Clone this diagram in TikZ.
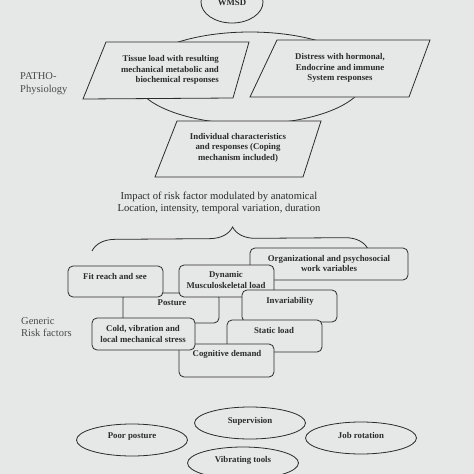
\documentclass[tikz,border=0pt]{standalone}
\usepackage{fontspec}
\setmainfont{Liberation Serif}
\usetikzlibrary{decorations.pathreplacing,shapes.geometric}
\definecolor{bgc}{HTML}{E6E7E7}
\definecolor{ink}{HTML}{2B2B2B}
\definecolor{soft}{HTML}{4A4A4A}
\begin{document}
\begin{tikzpicture}[x=1pt,y=-1pt,
  shapeline/.style={draw=ink, line width=0.8pt, fill=bgc},
  boxtext/.style={font=\bfseries\fontsize{8.8}{10.6}\selectfont, text=ink, align=center, inner sep=0pt},
  sidelabel/.style={font=\fontsize{10.5}{12.5}\selectfont, text=soft, align=left, inner sep=0pt, anchor=west},
  rbox/.style={draw=ink, line width=0.8pt, fill=bgc, rounded corners=5pt, rectangle, inner sep=0pt},
  oval/.style={draw=ink, line width=0.8pt, fill=bgc, ellipse, inner sep=0pt, minimum width=111pt, minimum height=32pt}
]
\fill[bgc] (0,0) rectangle (474,474);
\useasboundingbox (0,0) rectangle (474,474);

% WMSD
\node[oval, minimum width=62pt, minimum height=42pt] (wmsd) at (232,2) {};
\node[boxtext] (wmsdt) at (232,2.5) {WMSD};

% big ellipse behind
\node[oval, minimum width=230pt, minimum height=92pt] (patho) at (250,78) {};

% parallelograms
\draw[shapeline] (106,42) -- (249,42) -- (233,98) -- (83,99) -- cycle;
\node[boxtext, align=right, anchor=east] (tissue) at (219,70) {Tissue load with resulting\\mechanical metabolic and\\biochemical responses};
\draw[shapeline] (277,40) -- (430,40) -- (409,97) -- (250,97) -- cycle;
\node[boxtext] (distress) at (340,68) {Distress with hormonal,\\Endocrine and immune\\System responses};
\draw[shapeline] (177,121) -- (321,121) -- (303,177) -- (155,177) -- cycle;
\node[boxtext] (indiv) at (238,147.5) {Individual characteristics\\and responses (Coping\\mechanism included)};

\node[sidelabel] (patholab) at (20,83.5) {PATHO-\\Physiology};

% impact text
\node[font=\fontsize{10.6}{12.2}\selectfont, text=ink, align=center, inner sep=0pt] (impact) at (219,203) {Impact of risk factor modulated by anatomical\\Location, intensity, temporal variation, duration};

% brace
\coordinate (bl) at (92,251);
\coordinate (br) at (368,249);
\draw[ink, line width=0.8pt, decorate, decoration={brace, amplitude=23pt, aspect=0.51}] (bl) -- (br);

% risk factor boxes
\node[rbox, minimum width=96pt, minimum height=30pt] (posture) at (171,308) {};
\node[boxtext] (posturet) at (172,303) {Posture};
\node[rbox, minimum width=158pt, minimum height=32pt] (org) at (329,264) {};
\node[boxtext] (orgt) at (329,263.5) {Organizational and psychosocial\\work variables};
\node[rbox, minimum width=95pt, minimum height=31pt] (fit) at (115.5,281.5) {};
\node[boxtext] (fitt) at (115,276) {Fit reach and see};
\node[rbox, minimum width=95pt, minimum height=32pt] (dyn) at (226.5,281) {};
\node[boxtext] (dynt) at (226,280) {Dynamic\\Musculoskeletal load};
\node[rbox, minimum width=95pt, minimum height=32pt] (inv) at (289.5,306) {};
\node[boxtext] (invt) at (290,301) {Invariability};
\node[rbox, minimum width=95pt, minimum height=32pt] (static) at (274.5,336) {};
\node[boxtext] (statict) at (274,330) {Static load};
\node[rbox, minimum width=95pt, minimum height=33pt] (cog) at (226.5,360.5) {};
\node[boxtext] (cogt) at (227,354) {Cognitive demand};
\node[rbox, minimum width=103pt, minimum height=32pt] (cold) at (143.5,334) {};
\node[boxtext] (coldt) at (143,334) {Cold, vibration and\\local mechanical stress};

\node[sidelabel] (genlab) at (21,327) {Generic\\Risk factors};

% bottom ellipses
\node[oval] (sup) at (250,423) {};
\node[boxtext] (supt) at (250,421) {Supervision};
\node[oval] (poor) at (132,440) {};
\node[boxtext] (poort) at (132,437) {Poor posture};
\node[oval] (job) at (361,438) {};
\node[boxtext] (jobt) at (361,435) {Job rotation};
\node[oval] (vib) at (243,463) {};
\node[boxtext] (vibt) at (243,460) {Vibrating tools};
\end{tikzpicture}
\end{document}
